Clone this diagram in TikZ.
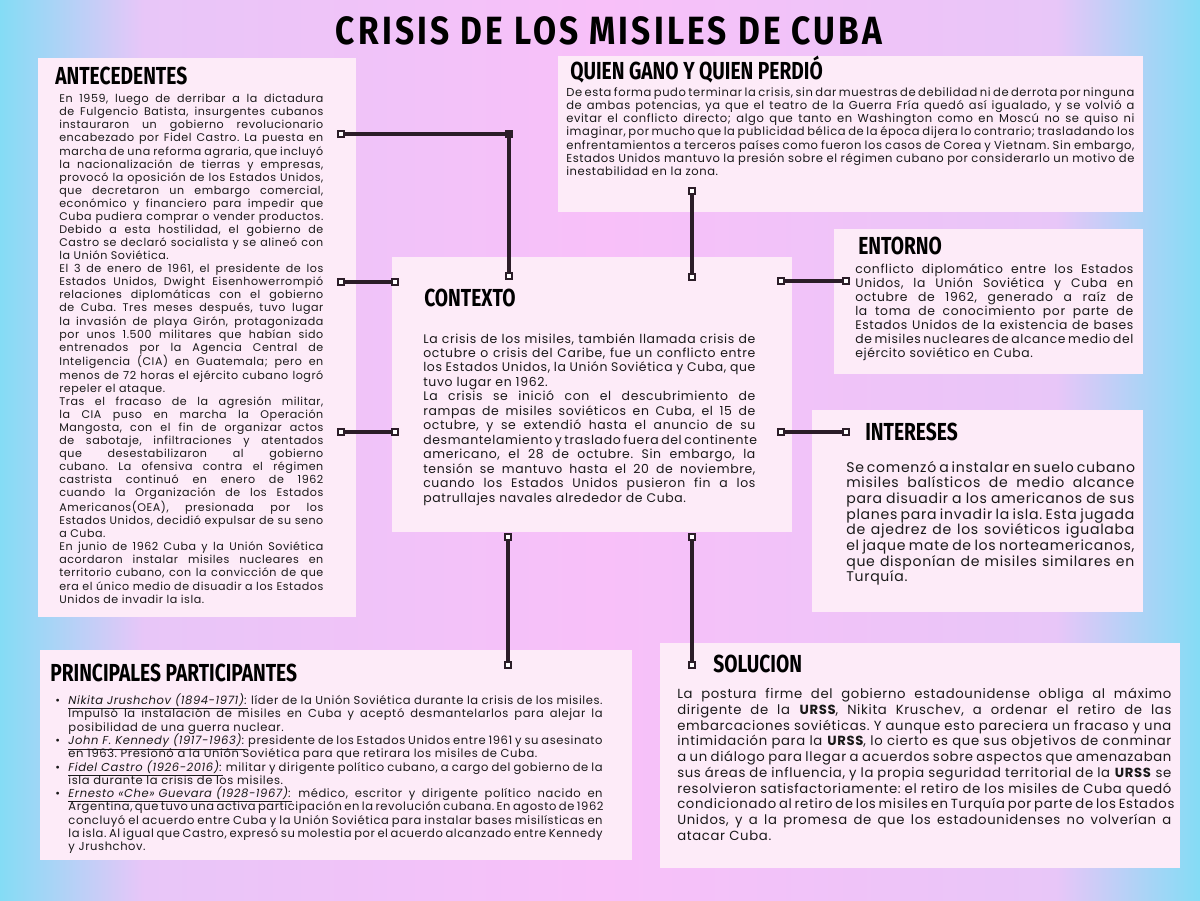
\documentclass[tikz,border=0pt]{standalone}
\usepackage{fontspec}
\setmainfont{Poppins}[LetterSpace=5]
\newfontfamily\headfont[FakeStretch=0.78]{Fira Sans}
\newfontfamily\titlefont[FakeStretch=0.85,LetterSpace=8]{Fira Sans}
\usetikzlibrary{positioning,fit}

\definecolor{skyedge}{HTML}{84DCF5}
\definecolor{lilac}{HTML}{E8C6F8}
\definecolor{pinkmid}{HTML}{F8C0F9}
\definecolor{panelbg}{HTML}{FDEBF8}
\definecolor{wire}{HTML}{2B1D28}
\pgfdeclarehorizontalshading{backdrop}{100bp}{color(0bp)=(skyedge); color(25bp)=(skyedge); color(31bp)=(lilac); color(50bp)=(pinkmid); color(69bp)=(lilac); color(75bp)=(skyedge); color(100bp)=(skyedge)}

\hyphenpenalty=10000
\exhyphenpenalty=10000
\tolerance=9999
\emergencystretch=2em
\lineskiplimit=-4pt
\frenchspacing

% one bullet of the participants list
\newcommand{\personaje}[1]{\par\noindent\hangindent=0.33cm\hangafter=1\makebox[0.33cm][l]{\textbullet}\smash{\underline{\textit{#1}}}}

\begin{document}
\begin{tikzpicture}[x=0.025cm,y=-0.025cm,
    panel/.style={fill=panelbg,inner sep=0pt},
    head/.style={font=\headfont\bfseries\fontsize{17.5}{18}\selectfont,anchor=west,inner sep=0pt},
    body/.style={anchor=north west,inner sep=0pt,align=justify,text=black!90},
    link/.style={draw=wire,line width=2.2pt},
    tip/.style={draw=wire,fill=white,line width=1.7pt,minimum size=0.16cm,inner sep=0pt},
    joint/.style={tip,fill=wire}]
    \useasboundingbox (0,0) rectangle (1200,900);

    % background
    \shade[shading=backdrop] (0,0) rectangle (1200,900);

    \node[font=\titlefont\bfseries\fontsize{28}{30}\selectfont] (title) at (609,31) {CRISIS DE LOS MISILES DE CUBA};

    % panels
    \node[panel,fit={(38,58) (356,617)}] (antebox) {};
    \node[panel,fit={(558,56) (1143,212)}] (quienbox) {};
    \node[panel,fit={(392,257) (792,532)}] (ctxbox) {};
    \node[panel,fit={(834,229) (1143,374)}] (entbox) {};
    \node[panel,fit={(812,410) (1143,612)}] (intbox) {};
    \node[panel,fit={(40,650) (632,860)}] (partbox) {};
    \node[panel,fit={(660,643) (1180,868)}] (solbox) {};

    % headings
    \node[head] (antehead) at (55,76) {ANTECEDENTES};
    \node[head] (quienhead) at (570,70) {QUIEN GANO Y QUIEN PERDIÓ};
    \node[head] (ctxhead) at (424,298) {CONTEXTO};
    \node[head] (enthead) at (858,246) {ENTORNO};
    \node[head] (inthead) at (865,432) {INTERESES};
    \node[head] (parthead) at (50,673) {PRINCIPALES PARTICIPANTES};
    \node[head] (solhead) at (713,664) {SOLUCION};

    % texts
    \node[body,text width=6.6cm,font=\fontsize{7.9}{9.3}\selectfont] (antetext) at (59,94) {En 1959, luego de derribar a la dictadura de Fulgencio Batista, insurgentes cubanos instauraron un gobierno revolucionario encabezado por Fidel Castro. La puesta en marcha de una reforma agraria, que incluyó la nacionalización de tierras y empresas, provocó la oposición de los Estados Unidos, que decretaron un embargo comercial, económico y financiero para impedir que Cuba pudiera comprar o vender productos. Debido a esta hostilidad, el gobierno de Castro se declaró socialista y se alineó con la Unión Soviética.\par
    El 3 de enero de 1961, el presidente de los Estados Unidos, Dwight Eisenhowerrompió relaciones diplomáticas con el gobierno de Cuba. Tres meses después, tuvo lugar la invasión de playa Girón, protagonizada por unos 1.500 militares que habían sido entrenados por la Agencia Central de Inteligencia (CIA) en Guatemala; pero en menos de 72 horas el ejército cubano logró repeler el ataque.\par
    Tras el fracaso de la agresión militar, la CIA puso en marcha la Operación Mangosta, con el fin de organizar actos de sabotaje, infiltraciones y atentados que desestabilizaron al gobierno cubano. La ofensiva contra el régimen castrista continuó en enero de 1962 cuando la Organización de los Estados Americanos(OEA), presionada por los Estados Unidos, decidió expulsar de su seno a Cuba.\par
    En junio de 1962 Cuba y la Unión Soviética acordaron instalar misiles nucleares en territorio cubano, con la convicción de que era el único medio de disuadir a los Estados Unidos de invadir la isla.};

    \node[body,text width=14.2cm,font=\fontsize{8.2}{9.45}\selectfont] (quientext) at (566,87) {De esta forma pudo terminar la crisis, sin dar muestras de debilidad ni de derrota por ninguna de ambas potencias, ya que el teatro de la Guerra Fría quedó así igualado, y se volvió a evitar el conflicto directo; algo que tanto en Washington como en Moscú no se quiso ni imaginar, por mucho que la publicidad bélica de la época dijera lo contrario; trasladando los enfrentamientos a terceros países como fueron los casos de Corea y Vietnam. Sin embargo, Estados Unidos mantuvo la presión sobre el régimen cubano por considerarlo un motivo de inestabilidad en la zona.};

    \node[body,text width=6.95cm,font=\fontsize{8.8}{9.95}\selectfont] (enttext) at (855,264) {conflicto diplomático entre los Estados Unidos, la Unión Soviética y Cuba en octubre de 1962, generado a raíz de la toma de conocimiento por parte de Estados Unidos de la existencia de bases de misiles nucleares de alcance medio del ejército soviético en Cuba.};

    \node[body,text width=8.3cm,font=\fontsize{8.85}{10.3}\selectfont] (ctxtext) at (423,333) {La crisis de los misiles, también llamada crisis de octubre o crisis del Caribe, fue un conflicto entre los Estados Unidos, la Unión Soviética y Cuba, que tuvo lugar en 1962.\par
    La crisis se inició con el descubrimiento de rampas de misiles soviéticos en Cuba, el 15 de octubre, y se extendió hasta el anuncio de su desmantelamiento y traslado fuera del continente americano, el 28 de octubre. Sin embargo, la tensión se mantuvo hasta el 20 de noviembre, cuando los Estados Unidos pusieron fin a los patrullajes navales alrededor de Cuba.};

    \node[body,text width=7.2cm,font=\fontsize{10}{11.1}\selectfont] (inttext) at (846,461) {Se comenzó a instalar en suelo cubano misiles balísticos de medio alcance para disuadir a los americanos de sus planes para invadir la isla. Esta jugada de ajedrez de los soviéticos igualaba el jaque mate de los norteamericanos, que disponían de misiles similares en Turquía.};

    \node[body,text width=13.68cm,font=\fontsize{8.2}{9.45}\selectfont] (parttext) at (55,691) {%
    \personaje{Nikita Jrushchov (1894-1971):} líder de la Unión Soviética durante la crisis de los misiles. Impulsó la instalación de misiles en Cuba y aceptó desmantelarlos para alejar la posibilidad de una guerra nuclear.
    \personaje{John F. Kennedy (1917-1963):} presidente de los Estados Unidos entre 1961 y su asesinato en 1963. Presionó a la Unión Soviética para que retirara los misiles de Cuba.
    \personaje{Fidel Castro (1926-2016):} militar y dirigente político cubano, a cargo del gobierno de la isla durante la crisis de los misiles.
    \personaje{Ernesto «Che» Guevara (1928-1967):} médico, escritor y dirigente político nacido en Argentina, que tuvo una activa participación en la revolución cubana. En agosto de 1962 concluyó el acuerdo entre Cuba y la Unión Soviética para instalar bases misilísticas en la isla. Al igual que Castro, expresó su molestia por el acuerdo alcanzado entre Kennedy y Jrushchov.\par};

    \node[body,text width=12.35cm,font=\fontsize{9.4}{11.2}\selectfont] (soltext) at (677,688) {La postura firme del gobierno estadounidense obliga al máximo dirigente de la \textbf{URSS}, Nikita Kruschev, a ordenar el retiro de las embarcaciones soviéticas. Y aunque esto pareciera un fracaso y una intimidación para la \textbf{URSS}, lo cierto es que sus objetivos de conminar a un diálogo para llegar a acuerdos sobre aspectos que amenazaban sus áreas de influencia, y la propia seguridad territorial de la \textbf{URSS} se resolvieron satisfactoriamente: el retiro de los misiles de Cuba quedó condicionado al retiro de los misiles en Turquía por parte de los Estados Unidos, y a la promesa de que los estadounidenses no volverían a atacar Cuba.};

    % connector ends
    \foreach \n/\px/\py in {a1/341/134, a3/509/276, b1/341/282, b2/395/282,
        c1/341/432, c2/395/432, d1/692/191, d2/692/277, e1/781/281, e2/846/281,
        f1/781/432, f2/846/432, g1/508/537, g2/508/665, h1/692/537, h2/692/665}
        \node[tip] (\n) at (\px,\py) {};
    \node[joint] (a2) at (509,134) {};

    \draw[link] (a1) -- (a2) -- (a3)
                (b1) -- (b2)
                (c1) -- (c2)
                (d1) -- (d2)
                (e1) -- (e2)
                (f1) -- (f2)
                (g1) -- (g2)
                (h1) -- (h2);
\end{tikzpicture}
\end{document}
